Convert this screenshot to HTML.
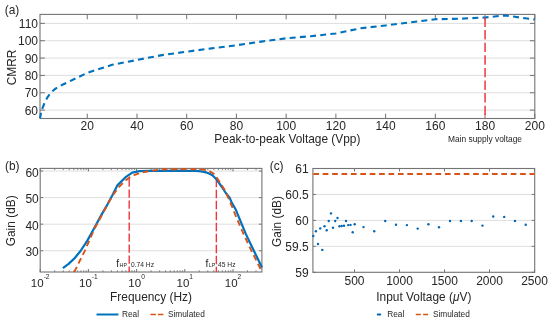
<!DOCTYPE html>
<html><head><meta charset="utf-8"><title>Figure</title><style>
html,body{margin:0;padding:0;background:#fff;width:550px;height:323px;overflow:hidden}
svg{display:block}
text{font-family:"Liberation Sans",Arial,Helvetica,sans-serif}
</style></head><body>
<svg width="550" height="323" viewBox="0 0 550 323">
<rect width="550" height="323" fill="#fff"/>
<line x1="40.00" y1="110.12" x2="534.80" y2="110.12" stroke="#dedede" stroke-width="1" />
<line x1="40.00" y1="92.78" x2="534.80" y2="92.78" stroke="#dedede" stroke-width="1" />
<line x1="40.00" y1="75.42" x2="534.80" y2="75.42" stroke="#dedede" stroke-width="1" />
<line x1="40.00" y1="58.07" x2="534.80" y2="58.07" stroke="#dedede" stroke-width="1" />
<line x1="40.00" y1="40.72" x2="534.80" y2="40.72" stroke="#dedede" stroke-width="1" />
<line x1="40.00" y1="23.38" x2="534.80" y2="23.38" stroke="#dedede" stroke-width="1" />
<line x1="87.24" y1="118.50" x2="87.24" y2="113.60" stroke="#747474" stroke-width="1" />
<line x1="87.24" y1="14.40" x2="87.24" y2="19.30" stroke="#747474" stroke-width="1" />
<text x="87.24" y="130.10" font-size="12" text-anchor="middle" fill="#262626" >20</text>
<line x1="136.97" y1="118.50" x2="136.97" y2="113.60" stroke="#747474" stroke-width="1" />
<line x1="136.97" y1="14.40" x2="136.97" y2="19.30" stroke="#747474" stroke-width="1" />
<text x="136.97" y="130.10" font-size="12" text-anchor="middle" fill="#262626" >40</text>
<line x1="186.70" y1="118.50" x2="186.70" y2="113.60" stroke="#747474" stroke-width="1" />
<line x1="186.70" y1="14.40" x2="186.70" y2="19.30" stroke="#747474" stroke-width="1" />
<text x="186.70" y="130.10" font-size="12" text-anchor="middle" fill="#262626" >60</text>
<line x1="236.43" y1="118.50" x2="236.43" y2="113.60" stroke="#747474" stroke-width="1" />
<line x1="236.43" y1="14.40" x2="236.43" y2="19.30" stroke="#747474" stroke-width="1" />
<text x="236.43" y="130.10" font-size="12" text-anchor="middle" fill="#262626" >80</text>
<line x1="286.16" y1="118.50" x2="286.16" y2="113.60" stroke="#747474" stroke-width="1" />
<line x1="286.16" y1="14.40" x2="286.16" y2="19.30" stroke="#747474" stroke-width="1" />
<text x="286.16" y="130.10" font-size="12" text-anchor="middle" fill="#262626" >100</text>
<line x1="335.89" y1="118.50" x2="335.89" y2="113.60" stroke="#747474" stroke-width="1" />
<line x1="335.89" y1="14.40" x2="335.89" y2="19.30" stroke="#747474" stroke-width="1" />
<text x="335.89" y="130.10" font-size="12" text-anchor="middle" fill="#262626" >120</text>
<line x1="385.61" y1="118.50" x2="385.61" y2="113.60" stroke="#747474" stroke-width="1" />
<line x1="385.61" y1="14.40" x2="385.61" y2="19.30" stroke="#747474" stroke-width="1" />
<text x="385.61" y="130.10" font-size="12" text-anchor="middle" fill="#262626" >140</text>
<line x1="435.34" y1="118.50" x2="435.34" y2="113.60" stroke="#747474" stroke-width="1" />
<line x1="435.34" y1="14.40" x2="435.34" y2="19.30" stroke="#747474" stroke-width="1" />
<text x="435.34" y="130.10" font-size="12" text-anchor="middle" fill="#262626" >160</text>
<line x1="485.07" y1="118.50" x2="485.07" y2="113.60" stroke="#747474" stroke-width="1" />
<line x1="485.07" y1="14.40" x2="485.07" y2="19.30" stroke="#747474" stroke-width="1" />
<text x="485.07" y="130.10" font-size="12" text-anchor="middle" fill="#262626" >180</text>
<line x1="534.80" y1="118.50" x2="534.80" y2="113.60" stroke="#747474" stroke-width="1" />
<line x1="534.80" y1="14.40" x2="534.80" y2="19.30" stroke="#747474" stroke-width="1" />
<text x="534.80" y="130.10" font-size="12" text-anchor="middle" fill="#262626" >200</text>
<line x1="40.00" y1="110.12" x2="44.90" y2="110.12" stroke="#747474" stroke-width="1" />
<line x1="534.80" y1="110.12" x2="529.90" y2="110.12" stroke="#747474" stroke-width="1" />
<text x="38.00" y="114.83" font-size="12" text-anchor="end" fill="#262626" >60</text>
<line x1="40.00" y1="92.78" x2="44.90" y2="92.78" stroke="#747474" stroke-width="1" />
<line x1="534.80" y1="92.78" x2="529.90" y2="92.78" stroke="#747474" stroke-width="1" />
<text x="38.00" y="97.48" font-size="12" text-anchor="end" fill="#262626" >70</text>
<line x1="40.00" y1="75.42" x2="44.90" y2="75.42" stroke="#747474" stroke-width="1" />
<line x1="534.80" y1="75.42" x2="529.90" y2="75.42" stroke="#747474" stroke-width="1" />
<text x="38.00" y="80.12" font-size="12" text-anchor="end" fill="#262626" >80</text>
<line x1="40.00" y1="58.07" x2="44.90" y2="58.07" stroke="#747474" stroke-width="1" />
<line x1="534.80" y1="58.07" x2="529.90" y2="58.07" stroke="#747474" stroke-width="1" />
<text x="38.00" y="62.77" font-size="12" text-anchor="end" fill="#262626" >90</text>
<line x1="40.00" y1="40.72" x2="44.90" y2="40.72" stroke="#747474" stroke-width="1" />
<line x1="534.80" y1="40.72" x2="529.90" y2="40.72" stroke="#747474" stroke-width="1" />
<text x="38.00" y="45.42" font-size="12" text-anchor="end" fill="#262626" >100</text>
<line x1="40.00" y1="23.38" x2="44.90" y2="23.38" stroke="#747474" stroke-width="1" />
<line x1="534.80" y1="23.38" x2="529.90" y2="23.38" stroke="#747474" stroke-width="1" />
<text x="38.00" y="28.07" font-size="12" text-anchor="end" fill="#262626" >110</text>
<rect x="40.00" y="14.40" width="494.80" height="104.10" fill="none" stroke="#747474" stroke-width="1.1"/>
<path d="M40.00 118.28 L41.24 111.86 L42.49 108.04 L44.97 101.97 L47.46 97.29 L49.95 93.99 L52.43 91.21 L54.92 89.13 L57.41 87.40 L59.89 86.01 L62.38 84.79 L87.24 72.82 L112.11 64.84 L136.97 59.98 L161.84 55.13 L186.70 51.66 L211.56 48.36 L236.43 45.24 L261.29 41.59 L286.16 38.30 L311.02 36.21 L335.89 33.44 L360.75 28.23 L385.61 25.46 L410.48 22.33 L435.34 19.21 L460.21 18.69 L485.07 17.48 L504.96 15.39 L534.80 19.56" fill="none" stroke="#0072BD" stroke-width="2.1" stroke-dasharray="6.0 4.223" stroke-dashoffset="0.5"/>
<line x1="485.07" y1="17.50" x2="485.07" y2="118.50" stroke="#EF3640" stroke-width="1.5" stroke-dasharray="9.4 3.2"/>
<text x="4.80" y="13.50" font-size="11.9" text-anchor="start" fill="#262626" >(a)</text>
<text x="287.40" y="142.90" font-size="11.9" text-anchor="middle" fill="#262626" >Peak-to-peak Voltage (Vpp)</text>
<text x="16.30" y="67.40" font-size="11.9" text-anchor="middle" fill="#262626" transform="rotate(-90 16.3 67.4)">CMRR</text>
<text x="485.00" y="141.50" font-size="8.4" text-anchor="middle" fill="#262626" >Main supply voltage</text>
<line x1="40.20" y1="250.75" x2="261.90" y2="250.75" stroke="#dedede" stroke-width="1" />
<line x1="40.20" y1="224.18" x2="261.90" y2="224.18" stroke="#dedede" stroke-width="1" />
<line x1="40.20" y1="197.62" x2="261.90" y2="197.62" stroke="#dedede" stroke-width="1" />
<line x1="40.20" y1="171.06" x2="261.90" y2="171.06" stroke="#dedede" stroke-width="1" />
<line x1="40.20" y1="272.00" x2="40.20" y2="269.00" stroke="#747474" stroke-width="1" />
<line x1="40.20" y1="168.40" x2="40.20" y2="171.40" stroke="#747474" stroke-width="1" />
<line x1="54.71" y1="272.00" x2="54.71" y2="270.30" stroke="#747474" stroke-width="0.9" />
<line x1="54.71" y1="168.40" x2="54.71" y2="170.10" stroke="#747474" stroke-width="0.9" />
<line x1="63.20" y1="272.00" x2="63.20" y2="270.30" stroke="#747474" stroke-width="0.9" />
<line x1="63.20" y1="168.40" x2="63.20" y2="170.10" stroke="#747474" stroke-width="0.9" />
<line x1="69.22" y1="272.00" x2="69.22" y2="270.30" stroke="#747474" stroke-width="0.9" />
<line x1="69.22" y1="168.40" x2="69.22" y2="170.10" stroke="#747474" stroke-width="0.9" />
<line x1="73.89" y1="272.00" x2="73.89" y2="270.30" stroke="#747474" stroke-width="0.9" />
<line x1="73.89" y1="168.40" x2="73.89" y2="170.10" stroke="#747474" stroke-width="0.9" />
<line x1="77.71" y1="272.00" x2="77.71" y2="270.30" stroke="#747474" stroke-width="0.9" />
<line x1="77.71" y1="168.40" x2="77.71" y2="170.10" stroke="#747474" stroke-width="0.9" />
<line x1="80.93" y1="272.00" x2="80.93" y2="270.30" stroke="#747474" stroke-width="0.9" />
<line x1="80.93" y1="168.40" x2="80.93" y2="170.10" stroke="#747474" stroke-width="0.9" />
<line x1="83.73" y1="272.00" x2="83.73" y2="270.30" stroke="#747474" stroke-width="0.9" />
<line x1="83.73" y1="168.40" x2="83.73" y2="170.10" stroke="#747474" stroke-width="0.9" />
<line x1="86.19" y1="272.00" x2="86.19" y2="270.30" stroke="#747474" stroke-width="0.9" />
<line x1="86.19" y1="168.40" x2="86.19" y2="170.10" stroke="#747474" stroke-width="0.9" />
<line x1="88.40" y1="272.00" x2="88.40" y2="269.00" stroke="#747474" stroke-width="1" />
<line x1="88.40" y1="168.40" x2="88.40" y2="171.40" stroke="#747474" stroke-width="1" />
<line x1="102.91" y1="272.00" x2="102.91" y2="270.30" stroke="#747474" stroke-width="0.9" />
<line x1="102.91" y1="168.40" x2="102.91" y2="170.10" stroke="#747474" stroke-width="0.9" />
<line x1="111.40" y1="272.00" x2="111.40" y2="270.30" stroke="#747474" stroke-width="0.9" />
<line x1="111.40" y1="168.40" x2="111.40" y2="170.10" stroke="#747474" stroke-width="0.9" />
<line x1="117.42" y1="272.00" x2="117.42" y2="270.30" stroke="#747474" stroke-width="0.9" />
<line x1="117.42" y1="168.40" x2="117.42" y2="170.10" stroke="#747474" stroke-width="0.9" />
<line x1="122.09" y1="272.00" x2="122.09" y2="270.30" stroke="#747474" stroke-width="0.9" />
<line x1="122.09" y1="168.40" x2="122.09" y2="170.10" stroke="#747474" stroke-width="0.9" />
<line x1="125.91" y1="272.00" x2="125.91" y2="270.30" stroke="#747474" stroke-width="0.9" />
<line x1="125.91" y1="168.40" x2="125.91" y2="170.10" stroke="#747474" stroke-width="0.9" />
<line x1="129.13" y1="272.00" x2="129.13" y2="270.30" stroke="#747474" stroke-width="0.9" />
<line x1="129.13" y1="168.40" x2="129.13" y2="170.10" stroke="#747474" stroke-width="0.9" />
<line x1="131.93" y1="272.00" x2="131.93" y2="270.30" stroke="#747474" stroke-width="0.9" />
<line x1="131.93" y1="168.40" x2="131.93" y2="170.10" stroke="#747474" stroke-width="0.9" />
<line x1="134.39" y1="272.00" x2="134.39" y2="270.30" stroke="#747474" stroke-width="0.9" />
<line x1="134.39" y1="168.40" x2="134.39" y2="170.10" stroke="#747474" stroke-width="0.9" />
<line x1="136.60" y1="272.00" x2="136.60" y2="269.00" stroke="#747474" stroke-width="1" />
<line x1="136.60" y1="168.40" x2="136.60" y2="171.40" stroke="#747474" stroke-width="1" />
<line x1="151.11" y1="272.00" x2="151.11" y2="270.30" stroke="#747474" stroke-width="0.9" />
<line x1="151.11" y1="168.40" x2="151.11" y2="170.10" stroke="#747474" stroke-width="0.9" />
<line x1="159.60" y1="272.00" x2="159.60" y2="270.30" stroke="#747474" stroke-width="0.9" />
<line x1="159.60" y1="168.40" x2="159.60" y2="170.10" stroke="#747474" stroke-width="0.9" />
<line x1="165.62" y1="272.00" x2="165.62" y2="270.30" stroke="#747474" stroke-width="0.9" />
<line x1="165.62" y1="168.40" x2="165.62" y2="170.10" stroke="#747474" stroke-width="0.9" />
<line x1="170.29" y1="272.00" x2="170.29" y2="270.30" stroke="#747474" stroke-width="0.9" />
<line x1="170.29" y1="168.40" x2="170.29" y2="170.10" stroke="#747474" stroke-width="0.9" />
<line x1="174.11" y1="272.00" x2="174.11" y2="270.30" stroke="#747474" stroke-width="0.9" />
<line x1="174.11" y1="168.40" x2="174.11" y2="170.10" stroke="#747474" stroke-width="0.9" />
<line x1="177.33" y1="272.00" x2="177.33" y2="270.30" stroke="#747474" stroke-width="0.9" />
<line x1="177.33" y1="168.40" x2="177.33" y2="170.10" stroke="#747474" stroke-width="0.9" />
<line x1="180.13" y1="272.00" x2="180.13" y2="270.30" stroke="#747474" stroke-width="0.9" />
<line x1="180.13" y1="168.40" x2="180.13" y2="170.10" stroke="#747474" stroke-width="0.9" />
<line x1="182.59" y1="272.00" x2="182.59" y2="270.30" stroke="#747474" stroke-width="0.9" />
<line x1="182.59" y1="168.40" x2="182.59" y2="170.10" stroke="#747474" stroke-width="0.9" />
<line x1="184.80" y1="272.00" x2="184.80" y2="269.00" stroke="#747474" stroke-width="1" />
<line x1="184.80" y1="168.40" x2="184.80" y2="171.40" stroke="#747474" stroke-width="1" />
<line x1="199.31" y1="272.00" x2="199.31" y2="270.30" stroke="#747474" stroke-width="0.9" />
<line x1="199.31" y1="168.40" x2="199.31" y2="170.10" stroke="#747474" stroke-width="0.9" />
<line x1="207.80" y1="272.00" x2="207.80" y2="270.30" stroke="#747474" stroke-width="0.9" />
<line x1="207.80" y1="168.40" x2="207.80" y2="170.10" stroke="#747474" stroke-width="0.9" />
<line x1="213.82" y1="272.00" x2="213.82" y2="270.30" stroke="#747474" stroke-width="0.9" />
<line x1="213.82" y1="168.40" x2="213.82" y2="170.10" stroke="#747474" stroke-width="0.9" />
<line x1="218.49" y1="272.00" x2="218.49" y2="270.30" stroke="#747474" stroke-width="0.9" />
<line x1="218.49" y1="168.40" x2="218.49" y2="170.10" stroke="#747474" stroke-width="0.9" />
<line x1="222.31" y1="272.00" x2="222.31" y2="270.30" stroke="#747474" stroke-width="0.9" />
<line x1="222.31" y1="168.40" x2="222.31" y2="170.10" stroke="#747474" stroke-width="0.9" />
<line x1="225.53" y1="272.00" x2="225.53" y2="270.30" stroke="#747474" stroke-width="0.9" />
<line x1="225.53" y1="168.40" x2="225.53" y2="170.10" stroke="#747474" stroke-width="0.9" />
<line x1="228.33" y1="272.00" x2="228.33" y2="270.30" stroke="#747474" stroke-width="0.9" />
<line x1="228.33" y1="168.40" x2="228.33" y2="170.10" stroke="#747474" stroke-width="0.9" />
<line x1="230.79" y1="272.00" x2="230.79" y2="270.30" stroke="#747474" stroke-width="0.9" />
<line x1="230.79" y1="168.40" x2="230.79" y2="170.10" stroke="#747474" stroke-width="0.9" />
<line x1="233.00" y1="272.00" x2="233.00" y2="269.00" stroke="#747474" stroke-width="1" />
<line x1="233.00" y1="168.40" x2="233.00" y2="171.40" stroke="#747474" stroke-width="1" />
<line x1="247.51" y1="272.00" x2="247.51" y2="270.30" stroke="#747474" stroke-width="0.9" />
<line x1="247.51" y1="168.40" x2="247.51" y2="170.10" stroke="#747474" stroke-width="0.9" />
<line x1="256.00" y1="272.00" x2="256.00" y2="270.30" stroke="#747474" stroke-width="0.9" />
<line x1="256.00" y1="168.40" x2="256.00" y2="170.10" stroke="#747474" stroke-width="0.9" />
<line x1="40.20" y1="250.75" x2="43.20" y2="250.75" stroke="#747474" stroke-width="1" />
<line x1="261.90" y1="250.75" x2="258.90" y2="250.75" stroke="#747474" stroke-width="1" />
<text x="38.80" y="256.25" font-size="12" text-anchor="end" fill="#262626" >30</text>
<line x1="40.20" y1="224.18" x2="43.20" y2="224.18" stroke="#747474" stroke-width="1" />
<line x1="261.90" y1="224.18" x2="258.90" y2="224.18" stroke="#747474" stroke-width="1" />
<text x="38.80" y="229.68" font-size="12" text-anchor="end" fill="#262626" >40</text>
<line x1="40.20" y1="197.62" x2="43.20" y2="197.62" stroke="#747474" stroke-width="1" />
<line x1="261.90" y1="197.62" x2="258.90" y2="197.62" stroke="#747474" stroke-width="1" />
<text x="38.80" y="203.12" font-size="12" text-anchor="end" fill="#262626" >50</text>
<line x1="40.20" y1="171.06" x2="43.20" y2="171.06" stroke="#747474" stroke-width="1" />
<line x1="261.90" y1="171.06" x2="258.90" y2="171.06" stroke="#747474" stroke-width="1" />
<text x="38.80" y="176.56" font-size="12" text-anchor="end" fill="#262626" >60</text>
<text x="40.20" y="287.00" font-size="11.5" text-anchor="middle" fill="#262626" >10<tspan font-size="6.6" dy="-7.6">-2</tspan></text>
<text x="88.40" y="287.00" font-size="11.5" text-anchor="middle" fill="#262626" >10<tspan font-size="6.6" dy="-7.6">-1</tspan></text>
<text x="136.60" y="287.00" font-size="11.5" text-anchor="middle" fill="#262626" >10<tspan font-size="6.6" dy="-7.6">0</tspan></text>
<text x="184.80" y="287.00" font-size="11.5" text-anchor="middle" fill="#262626" >10<tspan font-size="6.6" dy="-7.6">1</tspan></text>
<text x="233.00" y="287.00" font-size="11.5" text-anchor="middle" fill="#262626" >10<tspan font-size="6.6" dy="-7.6">2</tspan></text>
<rect x="40.20" y="168.40" width="221.70" height="103.60" fill="none" stroke="#747474" stroke-width="1.1"/>
<line x1="129.20" y1="178.40" x2="129.20" y2="272.00" stroke="#EF3640" stroke-width="1.4" stroke-dasharray="8.4 2.6"/>
<line x1="216.35" y1="178.80" x2="216.35" y2="272.00" stroke="#EF3640" stroke-width="1.4" stroke-dasharray="8.4 2.6"/>
<path d="M62.90 268.10 L68.60 263.90 L74.80 258.00 L80.50 251.00 L87.20 240.90 L94.70 227.20 L102.10 213.60 L107.40 204.60 L112.40 195.30 L117.30 185.40 L121.70 181.10 L126.00 176.80 L132.20 172.70 L139.60 171.20 L149.50 170.90 L160.00 170.90 L196.00 170.90 L201.00 171.30 L205.00 172.10 L208.50 173.30 L212.40 175.30 L216.40 179.20 L221.50 186.50 L225.80 193.00 L229.60 197.60 L231.30 201.70 L234.00 206.50 L236.10 210.30 L237.60 214.20 L245.90 234.10 L253.60 250.20 L262.00 267.60" fill="none" stroke="#0072BD" stroke-width="2.2" stroke-linejoin="round"/>
<path d="M74.20 272.10 L79.10 262.20 L84.70 251.10 L90.90 236.90 L94.70 228.20 L102.10 214.80 L107.40 204.60 L112.40 195.90 L118.60 187.30 L124.80 181.10 L129.70 177.40 L134.70 174.90 L140.80 172.70 L149.50 171.00 L160.00 169.60 L170.00 169.20 L195.00 169.20 L203.00 169.60 L208.20 170.50 L213.70 173.70 L216.30 177.00 L220.20 182.80 L224.50 189.80 L228.50 198.30 L232.30 207.20 L235.20 214.60 L242.70 232.10 L250.60 249.20 L261.90 271.60" fill="none" stroke="#D95319" stroke-width="1.9" stroke-dasharray="5.9 3.7"/>
<text x="116.20" y="266.90" font-size="10.2" text-anchor="start" fill="#262626" >f<tspan font-size="5.4" dx="0.5">HP</tspan></text>
<text x="131.00" y="266.70" font-size="6.7" text-anchor="start" fill="#262626" >0.74 Hz</text>
<text x="205.40" y="266.90" font-size="10.2" text-anchor="start" fill="#262626" >f<tspan font-size="5.4" dx="0.5">LP</tspan></text>
<text x="218.00" y="266.70" font-size="6.7" text-anchor="start" fill="#262626" >45 Hz</text>
<text x="5.00" y="170.20" font-size="11.9" text-anchor="start" fill="#262626" >(b)</text>
<text x="151.05" y="301.20" font-size="11.9" text-anchor="middle" fill="#262626" >Frequency (Hz)</text>
<text x="14.80" y="220.80" font-size="11.9" text-anchor="middle" fill="#262626" transform="rotate(-90 14.8 220.8)">Gain (dB)</text>
<line x1="96.50" y1="314.50" x2="118.40" y2="314.50" stroke="#0072BD" stroke-width="2" />
<text x="122.00" y="317.30" font-size="8.3" text-anchor="start" fill="#262626" >Real</text>
<line x1="150.40" y1="314.50" x2="163.50" y2="314.50" stroke="#D95319" stroke-width="1.6" stroke-dasharray="5.5 2.0"/>
<text x="167.90" y="317.30" font-size="8.3" text-anchor="start" fill="#262626" >Simulated</text>
<line x1="312.90" y1="246.35" x2="534.70" y2="246.35" stroke="#dedede" stroke-width="1" />
<line x1="312.90" y1="220.40" x2="534.70" y2="220.40" stroke="#dedede" stroke-width="1" />
<line x1="312.90" y1="194.45" x2="534.70" y2="194.45" stroke="#dedede" stroke-width="1" />
<line x1="354.50" y1="272.30" x2="354.50" y2="269.30" stroke="#747474" stroke-width="1" />
<line x1="354.50" y1="168.50" x2="354.50" y2="171.50" stroke="#747474" stroke-width="1" />
<text x="354.50" y="284.80" font-size="12" text-anchor="middle" fill="#262626" >500</text>
<line x1="399.50" y1="272.30" x2="399.50" y2="269.30" stroke="#747474" stroke-width="1" />
<line x1="399.50" y1="168.50" x2="399.50" y2="171.50" stroke="#747474" stroke-width="1" />
<text x="399.50" y="284.80" font-size="12" text-anchor="middle" fill="#262626" >1000</text>
<line x1="444.50" y1="272.30" x2="444.50" y2="269.30" stroke="#747474" stroke-width="1" />
<line x1="444.50" y1="168.50" x2="444.50" y2="171.50" stroke="#747474" stroke-width="1" />
<text x="444.50" y="284.80" font-size="12" text-anchor="middle" fill="#262626" >1500</text>
<line x1="489.50" y1="272.30" x2="489.50" y2="269.30" stroke="#747474" stroke-width="1" />
<line x1="489.50" y1="168.50" x2="489.50" y2="171.50" stroke="#747474" stroke-width="1" />
<text x="489.50" y="284.80" font-size="12" text-anchor="middle" fill="#262626" >2000</text>
<line x1="534.50" y1="272.30" x2="534.50" y2="269.30" stroke="#747474" stroke-width="1" />
<line x1="534.50" y1="168.50" x2="534.50" y2="171.50" stroke="#747474" stroke-width="1" />
<text x="534.50" y="284.80" font-size="12" text-anchor="middle" fill="#262626" >2500</text>
<line x1="312.90" y1="272.30" x2="315.90" y2="272.30" stroke="#747474" stroke-width="1" />
<line x1="534.70" y1="272.30" x2="531.70" y2="272.30" stroke="#747474" stroke-width="1" />
<text x="308.70" y="276.60" font-size="12" text-anchor="end" fill="#262626" >59</text>
<line x1="312.90" y1="246.35" x2="315.90" y2="246.35" stroke="#747474" stroke-width="1" />
<line x1="534.70" y1="246.35" x2="531.70" y2="246.35" stroke="#747474" stroke-width="1" />
<text x="308.70" y="250.65" font-size="12" text-anchor="end" fill="#262626" >59.5</text>
<line x1="312.90" y1="220.40" x2="315.90" y2="220.40" stroke="#747474" stroke-width="1" />
<line x1="534.70" y1="220.40" x2="531.70" y2="220.40" stroke="#747474" stroke-width="1" />
<text x="308.70" y="224.70" font-size="12" text-anchor="end" fill="#262626" >60</text>
<line x1="312.90" y1="194.45" x2="315.90" y2="194.45" stroke="#747474" stroke-width="1" />
<line x1="534.70" y1="194.45" x2="531.70" y2="194.45" stroke="#747474" stroke-width="1" />
<text x="308.70" y="198.75" font-size="12" text-anchor="end" fill="#262626" >60.5</text>
<line x1="312.90" y1="168.50" x2="315.90" y2="168.50" stroke="#747474" stroke-width="1" />
<line x1="534.70" y1="168.50" x2="531.70" y2="168.50" stroke="#747474" stroke-width="1" />
<text x="308.70" y="172.80" font-size="12" text-anchor="end" fill="#262626" >61</text>
<rect x="312.90" y="168.50" width="221.80" height="103.80" fill="none" stroke="#747474" stroke-width="1.1"/>
<line x1="313.30" y1="173.90" x2="534.70" y2="173.90" stroke="#D95319" stroke-width="2" stroke-dasharray="5.7 3.7"/>
<circle cx="313.30" cy="236.00" r="1.2" fill="#0065B5"/>
<circle cx="315.90" cy="231.20" r="1.2" fill="#0065B5"/>
<circle cx="318.00" cy="244.00" r="1.2" fill="#0065B5"/>
<circle cx="320.20" cy="228.40" r="1.2" fill="#0065B5"/>
<circle cx="322.30" cy="249.90" r="1.2" fill="#0065B5"/>
<circle cx="324.50" cy="226.20" r="1.2" fill="#0065B5"/>
<circle cx="326.70" cy="230.30" r="1.2" fill="#0065B5"/>
<circle cx="328.70" cy="221.00" r="1.2" fill="#0065B5"/>
<circle cx="331.00" cy="213.40" r="1.2" fill="#0065B5"/>
<circle cx="333.00" cy="227.70" r="1.2" fill="#0065B5"/>
<circle cx="335.20" cy="221.00" r="1.2" fill="#0065B5"/>
<circle cx="337.50" cy="218.00" r="1.2" fill="#0065B5"/>
<circle cx="339.50" cy="226.20" r="1.2" fill="#0065B5"/>
<circle cx="341.70" cy="226.00" r="1.2" fill="#0065B5"/>
<circle cx="344.00" cy="225.80" r="1.2" fill="#0065B5"/>
<circle cx="346.00" cy="221.00" r="1.2" fill="#0065B5"/>
<circle cx="348.20" cy="225.10" r="1.2" fill="#0065B5"/>
<circle cx="350.50" cy="224.90" r="1.2" fill="#0065B5"/>
<circle cx="352.70" cy="232.30" r="1.2" fill="#0065B5"/>
<circle cx="354.70" cy="224.30" r="1.2" fill="#0065B5"/>
<circle cx="363.50" cy="227.10" r="1.2" fill="#0065B5"/>
<circle cx="374.20" cy="231.20" r="1.2" fill="#0065B5"/>
<circle cx="385.20" cy="221.00" r="1.2" fill="#0065B5"/>
<circle cx="396.00" cy="224.70" r="1.2" fill="#0065B5"/>
<circle cx="406.90" cy="225.10" r="1.2" fill="#0065B5"/>
<circle cx="417.70" cy="228.60" r="1.2" fill="#0065B5"/>
<circle cx="428.40" cy="224.30" r="1.2" fill="#0065B5"/>
<circle cx="439.00" cy="227.30" r="1.2" fill="#0065B5"/>
<circle cx="450.00" cy="221.00" r="1.2" fill="#0065B5"/>
<circle cx="460.90" cy="221.00" r="1.2" fill="#0065B5"/>
<circle cx="471.70" cy="221.00" r="1.2" fill="#0065B5"/>
<circle cx="482.50" cy="225.60" r="1.2" fill="#0065B5"/>
<circle cx="493.20" cy="216.50" r="1.2" fill="#0065B5"/>
<circle cx="504.20" cy="216.90" r="1.2" fill="#0065B5"/>
<circle cx="515.00" cy="221.00" r="1.2" fill="#0065B5"/>
<circle cx="525.70" cy="224.70" r="1.2" fill="#0065B5"/>
<text x="269.70" y="170.20" font-size="11.9" text-anchor="start" fill="#262626" >(c)</text>
<text x="423.80" y="301.20" font-size="11.9" text-anchor="middle" fill="#262626" >Input Voltage (<tspan font-style="italic">μ</tspan>V)</text>
<text x="280.70" y="221.50" font-size="11.9" text-anchor="middle" fill="#262626" transform="rotate(-90 280.7 221.5)">Gain (dB)</text>
<rect x="376.8" y="313.6" width="4.4" height="1.8" rx="0.9" fill="#0065B5"/>
<text x="387.20" y="317.30" font-size="8.3" text-anchor="start" fill="#262626" >Real</text>
<line x1="415.80" y1="314.50" x2="428.20" y2="314.50" stroke="#D95319" stroke-width="1.6" stroke-dasharray="5.0 2.3"/>
<text x="432.90" y="317.30" font-size="8.3" text-anchor="start" fill="#262626" >Simulated</text>
</svg></body></html>
